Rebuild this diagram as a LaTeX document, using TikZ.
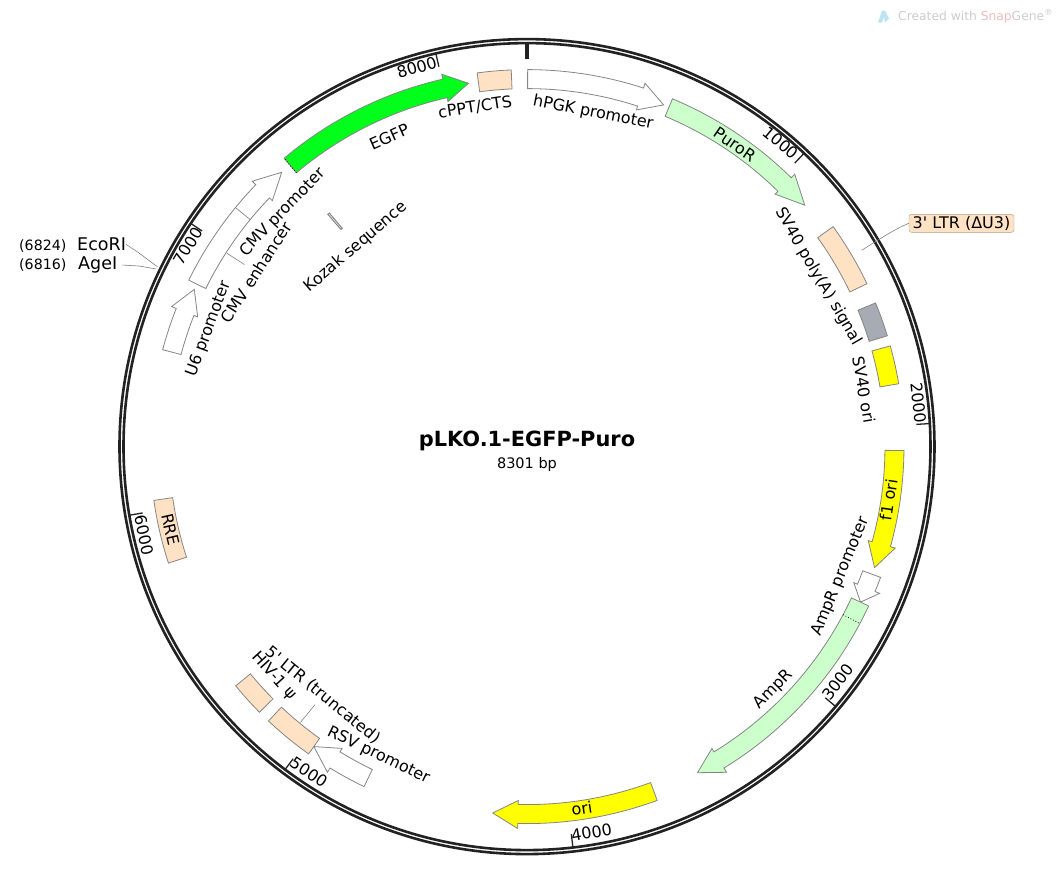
\documentclass[tikz,border=0pt]{standalone}
\usepackage{fontspec}
\setmainfont{DejaVu Sans}
\usepackage{xcolor}
\usetikzlibrary{calc, positioning}
\definecolor{ringcol}{HTML}{222222}
\definecolor{edgecol}{HTML}{858585}
\definecolor{peach}{HTML}{FFE2C4}
\definecolor{mint}{HTML}{CCFFCC}
\definecolor{slate}{HTML}{A6ABB4}
\definecolor{egfpcol}{HTML}{00FF1A}
\definecolor{orifill}{HTML}{FFFF00}
\definecolor{markgray}{HTML}{CCCCCC}
\definecolor{markpink}{HTML}{EDBCBC}
\definecolor{markblue}{HTML}{BDE3F2}
\newcommand{\lblsize}{\fontsize{16}{16}\selectfont}
\tikzset{
    feature/.style={draw=edgecol, line width=0.8pt, line join=miter},
    leader/.style={draw=gray, line width=0.6pt},
    seqlabel/.style={anchor=base, inner sep=0pt, font=\lblsize},
    sitelabel/.style={anchor=base west, inner sep=0pt, font=\fontsize{17.5}{18}\selectfont},
    sitepos/.style={anchor=base west, inner sep=0pt, font=\fontsize{14.2}{15}\selectfont}
}
\begin{document}
\begin{tikzpicture}[x=1pt, y=1pt]
    \useasboundingbox (-527,-440.4) rectangle (531,446.6);
    % Backbone, two rings
    \draw[ringcol, line width=2.6pt] (0,0) circle (407.5);
    \draw[ringcol, line width=2.6pt] (0,0) circle (403.5);
    \draw[ringcol, line width=3.2pt] (0,388) -- (0,404);
    % Ticks every 1000 bp
    \foreach \n in {1000,2000,...,8000} {
        \pgfmathsetmacro{\t}{90-\n/8301*360}
        \draw[ringcol, line width=1.3pt] (\t:390) -- (\t:403);
    }
    % Arrows: start/head base/tip/fill
    \foreach \a/\b/\c/\fillc in {0.1/18/21.8/white, 22.7/44.5/49/mint, 90.6/105.4/109.2/orifill,
        110.3/112.6/115/white, 115/148.5/152.4/mint, 159.8/181.4/185.35/orifill,
        205.6/211.5/215.4/white, 284.9/291.5/295.3/white, 296.2/314/318.2/white,
        319.9/347.1/350.85/egfpcol} {
        \draw[feature, fill=\fillc] (90-\a:377) arc[start angle=90-\a, end angle=90-\b, radius=377]
            -- (90-\b:382) -- (90-\c:368) -- (90-\b:354) -- (90-\b:358)
            arc[start angle=90-\b, end angle=90-\a, radius=358] -- cycle;
    }
    % Boxes: start/end/fill
    \foreach \a/\b/\fillc in {352.4/357.6/peach, 54.3/64.4/peach, 67.6/72.9/slate, 74.5/80.4/orifill,
        215.4/223.3/peach, 225.2/230.6/peach, 252/261.8/peach} {
        \draw[feature, fill=\fillc] (90-\a:377) arc[start angle=90-\a, end angle=90-\b, radius=377]
            -- (90-\b:358) arc[start angle=90-\b, end angle=90-\a, radius=358] -- cycle;
    }
    % Kozak sequence
    \draw[feature, line width=1pt, fill=white] (90-319.4:306) -- (90-319.75:306) -- (90-319.75:286) -- (90-319.4:286) -- cycle;
    % Inner borders and dotted ends
    \draw[edgecol, line width=0.7pt] (90-309.35:377) -- (90-309.35:358);
    \draw[black, line width=0.8pt, dotted] (90-118:358) -- (90-118:376);
    \draw[black, line width=0.8pt, dotted] (90-319.9:358) -- (90-319.9:377);
    % Labels read clockwise: centre/radius/name/text
    \foreach \c/\r/\nm/\s in {11.2/336/hpgk/hPGK promoter, -8.7/338/cppt/{cPPT/CTS}, -24/333/egfp/EGFP,
        34.5/361/puror/PuroR, 59.7/333/polya/SV40 poly(A) signal, 80.5/336/svori/SV40 ori,
        290.3/335/usix/U6 promoter, 302.8/316/cmvenh/CMV enhancer, 313.8/334/cmvpro/CMV promoter,
        319.4/258.5/kozak/Kozak sequence, 39.9/390/tka/1000, 83.6/388/tkb/2000,
        300.6/388/tkg/7000, 343.8/389/tkh/8000} {
        \node[seqlabel, rotate=-\c] (\nm) at (90-\c:\r) {\s};
    }
    % Labels read anticlockwise: centre/radius/name/text
    \foreach \c/\r/\nm/\s in {98.4/372/fori/f1 ori, 112.5/344/amppro/AmpR promoter, 134.6/350/ampr/AmpR,
        171.4/372/oriname/ori, 205.7/347/rsv/RSV promoter, 219.4/326.5/ltrname/5\textquotesingle{} LTR (truncated),
        227.8/346/hiv/HIV-1 ψ, 256.9/372/rre/RRE, 127.1/396/tkc/3000, 170.5/397/tkd/4000,
        213.8/398/tke/5000, 257/398.5/tkf/6000} {
        \node[seqlabel, rotate=180-\c] (\nm) at (90-\c:\r) {\s};
    }
    % Centre title
    \node[inner sep=0pt, font=\bfseries\fontsize{20.9}{21}\selectfont] (title) at (0,5.5) {pLKO.1-EGFP-Puro};
    \node[inner sep=0pt, font=\fontsize{14.5}{15}\selectfont, below=6pt of title] (size) {8301 bp};
    % Enzyme sites
    \node[sitepos] (ecopos) at (-508,196) {(6824)};
    \node[sitepos] (agepos) at (-508,177) {(6816)};
    \node[sitelabel] (ecori) at (-450,196) {EcoRI};
    \node[sitelabel] (agei) at (-449,177) {AgeI};
    \coordinate (ecosite) at (90-295.95:411);
    \coordinate (agesite) at (90-295.6:411);
    \draw[leader] (ecori.east) -- ++(12,-8) -- (ecosite);
    \draw[leader] (agei.east) ++(5,0) -- ++(17,-1) -- (agesite);
    % Feature callouts
    \node[draw=peach!70!black, fill=peach, rounded corners=2.5pt, inner sep=0pt, minimum width=105pt,
        minimum height=18pt, font=\lblsize] (ltrbox) at (434.5,223.3) {3\textquotesingle{} LTR (ΔU3)};
    \coordinate (ltrend) at (90-59.6:388);
    \draw[leader] (ltrbox.west) .. controls (366,216.6) and (353,207.6) .. (ltrend);
    \coordinate (ltrfive) at (90-219.4:334);
    \coordinate (ltrfeat) at (90-219.4:357);
    \draw[leader] (ltrfive) -- (ltrfeat);
    \coordinate (cmvfeat) at (90-302.8:357);
    \coordinate (cmvend) at (90-302.8:336);
    \draw[leader] (cmvfeat) -- (cmvend);
    % Watermark
    \node[inner sep=0pt, anchor=west, text=markgray, font=\fontsize{12.3}{13}\selectfont] (mark)
        at (371,430.6) {Created with \textcolor{markpink}{Snap}Gene\textsuperscript{®}};
    \fill[markblue] (351,424) -- (355,436) -- (358,436) -- (362,428) -- (358,424) -- (357,430) -- (355,424) -- cycle;
\end{tikzpicture}
\end{document}
